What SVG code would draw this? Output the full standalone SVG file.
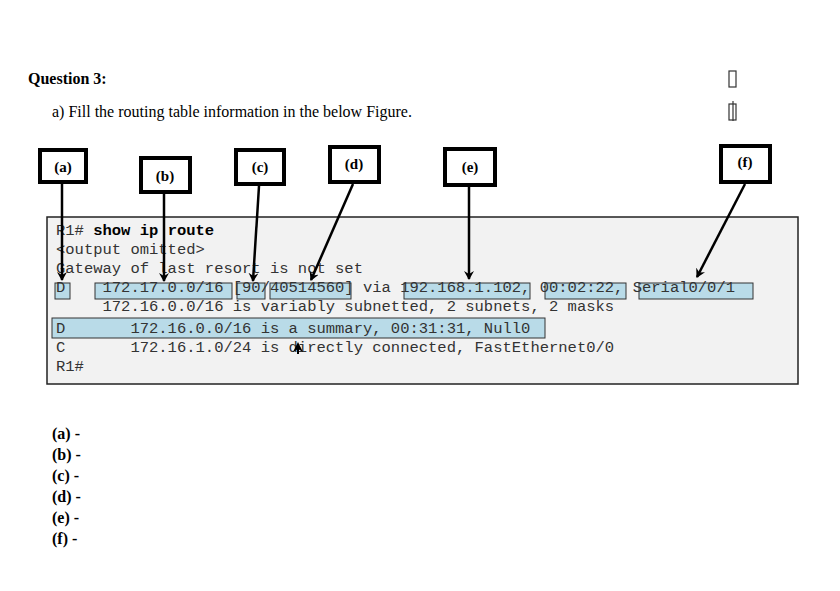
<svg xmlns="http://www.w3.org/2000/svg" width="840" height="591" viewBox="0 0 840 591">
<style>
.q{font-family:"Liberation Serif",serif;font-size:16px;fill:#000}
.b{font-weight:bold}
.lab{font-family:"Liberation Serif",serif;font-size:15px;font-weight:bold;fill:#000;text-anchor:middle}
.lb{fill:#fff;stroke:#000;stroke-width:4}
.m{font-family:"Liberation Mono",monospace;font-size:15.5px;fill:#333;white-space:pre}
.hl{fill:#b9dbe8;stroke:#333;stroke-width:1}
.ar{stroke:#000;stroke-width:2.5;fill:none;marker-end:url(#ah)}
</style>
<defs><marker id="ah" markerWidth="10" markerHeight="10" refX="8" refY="5" orient="auto" markerUnits="userSpaceOnUse"><path d="M0,0 L9,5 L0,10 L3,5z" fill="#000"/></marker></defs>
<rect width="840" height="591" fill="#fff"/>
<text class="q b" x="28" y="84">Question 3:</text>
<rect x="729" y="71" width="7" height="16" fill="none" stroke="#333" stroke-width="1.2"/>
<rect x="729" y="104" width="7" height="16" fill="none" stroke="#333" stroke-width="1.2"/>
<line x1="733" y1="101" x2="733" y2="121" stroke="#333" stroke-width="1.2"/>
<text class="q" x="52" y="117">a)  Fill the routing table information in the below Figure.</text>
<g id="terminal">
<rect x="47" y="217" width="751" height="167" fill="#f2f2f2" stroke="#222" stroke-width="1.5"/>
<rect class="hl" x="55" y="283" width="15" height="16"/>
<rect class="hl" x="95" y="283" width="137" height="16"/>
<rect class="hl" x="237" y="283" width="28" height="16"/>
<rect class="hl" x="270" y="283" width="81" height="16"/>
<rect class="hl" x="404" y="283" width="126" height="16"/>
<rect class="hl" x="545" y="283" width="81" height="16"/>
<rect class="hl" x="639" y="283" width="114" height="16"/>
<rect class="hl" x="52" y="318" width="493" height="20"/>
<text class="m" x="56" y="235">R1# <tspan font-weight="bold" fill="#000">show ip route</tspan></text>
<text class="m" x="56" y="254">&lt;output omitted&gt;</text>
<text class="m" x="56" y="273">Gateway of last resort is not set</text>
<text class="m" x="56" y="292">D    172.17.0.0/16 [90/40514560] via 192.168.1.102, 00:02:22, Serial0/0/1</text>
<text class="m" x="56" y="311">     172.16.0.0/16 is variably subnetted, 2 subnets, 2 masks</text>
<text class="m" x="56" y="333">D       172.16.0.0/16 is a summary, 00:31:31, Null0</text>
<text class="m" x="56" y="352">C       172.16.1.0/24 is directly connected, FastEthernet0/0</text>
<text class="m" x="56" y="371">R1#</text>
</g>
<g id="a"><rect class="lb" x="40" y="150" width="46" height="32"/><text class="lab" x="63" y="172">(a)</text></g>
<g id="b"><rect class="lb" x="141" y="158" width="49" height="34"/><text class="lab" x="165" y="181">(b)</text></g>
<g id="c"><rect class="lb" x="236" y="150" width="48" height="34"/><text class="lab" x="260" y="172">(c)</text></g>
<g id="d"><rect class="lb" x="330" y="147" width="49" height="35"/><text class="lab" x="354" y="169">(d)</text></g>
<g id="e"><rect class="lb" x="445" y="149" width="50" height="36"/><text class="lab" x="470" y="172">(e)</text></g>
<g id="f"><rect class="lb" x="721" y="146" width="49" height="36"/><text class="lab" x="745" y="167">(f)</text></g>
<g id="connectors">
<line class="ar" x1="62" y1="184" x2="62" y2="280"/>
<line class="ar" x1="164" y1="194" x2="164" y2="281"/>
<line class="ar" x1="259" y1="186" x2="253" y2="281"/>
<line class="ar" x1="353" y1="184" x2="311" y2="280"/>
<line class="ar" x1="469" y1="187" x2="469" y2="279"/>
<line class="ar" x1="745" y1="184" x2="697" y2="277"/>
<path d="M298,342 L303,352 L298,349 L293,352z" fill="#000"/>
<line x1="298" y1="348" x2="298" y2="354" stroke="#000" stroke-width="2"/>
</g>
<g class="q b">
<text x="52" y="439">(a) -</text>
<text x="52" y="460">(b) -</text>
<text x="52" y="481">(c) -</text>
<text x="52" y="502">(d) -</text>
<text x="52" y="523">(e) -</text>
<text x="52" y="544">(f) -</text>
</g>
</svg>
